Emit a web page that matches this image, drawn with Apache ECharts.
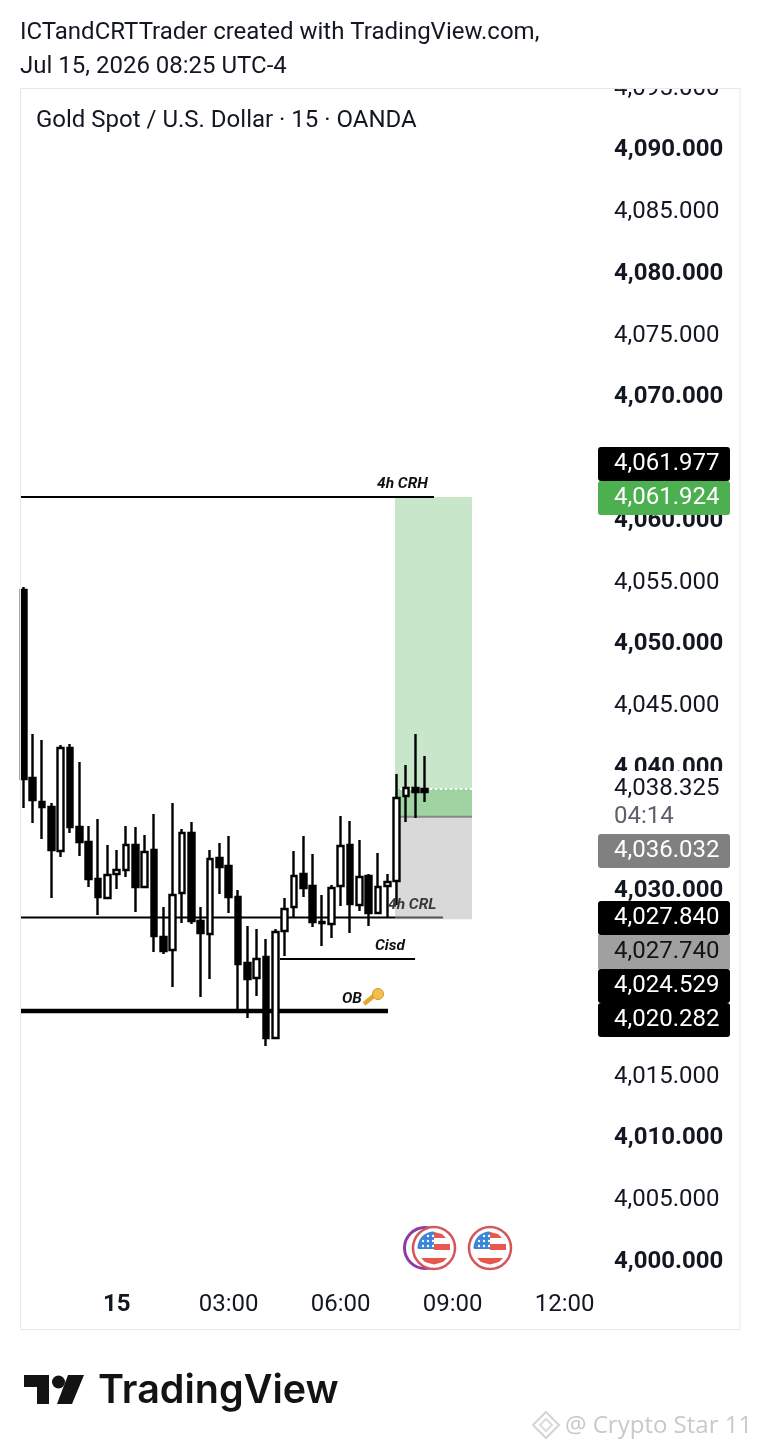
<!DOCTYPE html>
<html><head><meta charset="utf-8">
<style>html,body{margin:0;padding:0;background:#fff}#c{width:760px;height:1450px}</style>
<script src="https://cdn.jsdelivr.net/npm/echarts@6/dist/echarts.min.js"></script>
</head><body><div id="c"></div>
<script>
const categories = ['21:30','21:45','22:00','22:15','22:30','22:45','23:00','23:15','23:30','23:45','00:00','00:15','00:30','00:45','01:00','01:15','01:30','01:45','02:00','02:15','02:30','02:45','03:00','03:15','03:30','03:45','04:00','04:15','04:30','04:45','05:00','05:15','05:30','05:45','06:00','06:15','06:30','06:45','07:00','07:15','07:30','07:45','08:00','08:15','08:30','08:45','09:00','09:15','09:30','09:45','10:00','10:15','10:30','10:45','11:00','11:15','11:30','11:45','12:00','12:15','12:30','12:45'];
const tickTimes = ['00:00','03:00','06:00','09:00','12:00'];
const openVals = [4054.40,4039.18,4037.23,4036.83,4033.26,4041.60,4035.21,4033.99,4031.00,4029.46,4031.40,4031.73,4033.75,4030.35,4033.35,4026.30,4025.25,4029.86,4034.72,4027.60,4026.54,4032.70,4032.05,4029.54,4024.20,4022.98,4024.68,4018.12,4026.79,4028.73,4031.40,4030.43,4027.52,4027.35,4030.43,4033.75,4028.89,4031.24,4028.24,4030.43,4030.84,4037.72,4038.37,4038.28];
const closeVals = [4039.09,4037.39,4036.83,4033.35,4041.60,4035.21,4033.99,4031.00,4029.54,4031.32,4031.73,4033.75,4030.35,4033.18,4026.38,4025.17,4029.70,4034.72,4027.60,4026.62,4032.62,4031.97,4029.54,4024.11,4022.90,4024.52,4018.12,4026.71,4028.57,4031.24,4030.27,4027.52,4027.43,4030.27,4033.67,4028.97,4031.16,4028.24,4030.35,4030.75,4037.56,4038.37,4038.04,4038.04];
const lowVals = [4036.75,4035.53,4034.24,4029.46,4032.78,4034.72,4032.86,4030.35,4028.08,4029.38,4030.19,4031.16,4028.33,4030.27,4025.09,4024.92,4022.25,4027.43,4027.35,4021.44,4022.90,4029.78,4028.24,4020.39,4019.74,4021.52,4017.48,4018.04,4024.76,4027.92,4029.54,4027.11,4025.57,4026.22,4028.81,4026.62,4028.41,4027.19,4028.16,4027.84,4028.89,4035.61,4035.94,4037.23];
const highVals = [4054.64,4042.74,4042.25,4037.15,4041.85,4041.93,4040.47,4035.29,4035.86,4033.75,4033.35,4035.29,4035.21,4034.56,4036.26,4028.73,4037.15,4035.05,4035.61,4028.73,4033.35,4033.91,4034.48,4030.11,4027.19,4026.95,4026.14,4026.95,4029.46,4033.26,4034.48,4033.02,4029.70,4030.51,4036.10,4035.69,4034.16,4031.40,4033.10,4031.40,4039.50,4040.23,4042.74,4040.96];

const crhLevel = 4061.92, crlLevel = 4027.88, cisdLevel = 4024.52, obLevel = 4020.31;
const entryLevel = 4036.03, lastPrice = 4038.28;
const axisMin = 4000, axisMax = 4095, axisStep = 5;
const priceLabels = ['4,061.977','4,061.924','4,038.325','04:14','4,036.032','4,027.840','4,027.740','4,024.529','4,020.282'];
const titleLines = ['ICTandCRTTrader created with TradingView.com,','Jul 15, 2026 08:25 UTC-4'];
const legendText = 'Gold Spot / U.S. Dollar · 15 · OANDA';
const lineLabels = ['4h CRH','4h CRL','Cisd','OB'];

const FONT = 'Roboto, sans-serif';
const INK = '#131722';
const CAP = 'italic bold 15.5px "Liberation Sans Narrow", '+FONT;
const fmt = v => v.toFixed(3).replace(/\B(?=(\d{3})(?!\d))(?=.*\.)/, ',');

function lvl(name, x0, x1, y, w, color) {
  return {type:'line', name, xAxisIndex:1, yAxisIndex:0, data:[[x0,y],[x1,y]], symbol:'none', silent:true, z:3,
    lineStyle:{color:color||'#000', width:w}, animation:false};
}
function txt(x,y,t,o){ return {type:'text', x, y:y+1.8, z:110, silent:true, style:Object.assign({text:t, font:'24px '+FONT, fill:INK, textVerticalAlign:'middle', verticalAlign:'middle'},o||{})}; }
function box(x,y,w,h,fill,r){ return {type:'rect', z:105, silent:true, shape:{x,y,width:w,height:h,r:r||0}, style:{fill}}; }

function flag(cx,cy){
  const c=[];
  const z=100;
  c.push({type:'circle',z,silent:true,shape:{cx,cy,r:21},style:{fill:'#fff',stroke:'#d4555a',lineWidth:2.5}});
  c.push({type:'sector',z:z+1,silent:true,shape:{cx,cy,r:16.5,r0:0,startAngle:Math.PI,endAngle:Math.PI*1.5},style:{fill:'#3d85d8'}});
  c.push({type:'rect',z:z+1,silent:true,shape:{x:cx-16,y:cy-1,width:16,height:2},style:{fill:'#3d85d8'}});
  c.push({type:'polygon',z:z+1,silent:true,shape:{points:[[cx,cy-16],[cx+8,cy-14],[cx+12,cy-10],[cx,cy-10]]},style:{fill:'#e8574e'}});
  c.push({type:'rect',z:z+1,silent:true,shape:{x:cx,y:cy-4,width:16,height:6},style:{fill:'#e8574e'}});
  c.push({type:'polygon',z:z+1,silent:true,shape:{points:[[cx-13,cy+10],[cx+13,cy+10],[cx+9,cy+14],[cx,cy+16.5],[cx-9,cy+14]]},style:{fill:'#e8574e'}});
  [[-11,-7],[-6,-7],[-1,-7],[-11,-2],[-6,-2],[-1,-2],[-6,-12],[-1,-12]].forEach(p=>{
    c.push({type:'circle',z:z+2,silent:true,shape:{cx:cx+p[0],cy:cy+p[1],r:1.2},style:{fill:'#fff'}});
  });
  return c;
}

const graphics = [
  box(0,0,760,88,'#fff'), box(0,88,19.5,1250,'#fff'),
  box(0,1330,760,120,'#fff'),
  {type:'rect',z:106,silent:true,shape:{x:20.5,y:88.5,width:719.5,height:1241},style:{fill:'none',stroke:'#e6e8ee',lineWidth:1}},
  txt(20,31,titleLines[0]), txt(20,65,titleLines[1]),
  txt(36,119,legendText),
  // line captions
  txt(377,482,lineLabels[0],{font:CAP,fill:'#111'}),
  txt(388,903,lineLabels[1],{font:CAP,fill:'#3a3a3a'}),
  txt(375,944,lineLabels[2],{font:CAP,fill:'#111'}),
  txt(342,997,lineLabels[3],{font:CAP,fill:'#111'}),
  {type:'line',z:110,silent:true,shape:{x1:364,y1:1004,x2:376,y2:994},style:{stroke:'#e3a92f',lineWidth:4.5}},
  {type:'circle',z:110,silent:true,shape:{cx:378,cy:994,r:5.5},style:{fill:'#f0bf4c',stroke:'#d8982a',lineWidth:1}},
  // price scale boxes
  box(598,447,132,34,'#000',3), txt(614,462.5,priceLabels[0],{fill:'#fff'}),
  box(598,481,132,34,'#4caf50',3), txt(614,496.5,priceLabels[1],{fill:'#fff'}),
  box(598,771,132,64,'#fff'), txt(614,787,priceLabels[2]), txt(614,815,priceLabels[3],{fill:'#5d606b'}),
  box(598,834,132,34,'#808080',3), txt(614,849,priceLabels[4],{fill:'#fff'}),
  box(598,901,132,34,'#000',3), txt(614,916,priceLabels[5],{fill:'#fff'}),
  box(598,935,132,34,'#a0a0a0',0), txt(614,950,priceLabels[6],{fill:'#131313'}),
  box(598,969,132,34,'#000',3), txt(614,984,priceLabels[7],{fill:'#fff'}),
  box(598,1003,132,34,'#000',3), txt(614,1018,priceLabels[8],{fill:'#fff'}),
  // event badges
  {type:'circle',z:99,silent:true,shape:{cx:425,cy:1248,r:20.5},style:{fill:'#fff',stroke:'#8e3aa8',lineWidth:3}},
  ...flag(434,1248), ...flag(490,1248),
  // TradingView mark
  {type:'polygon',z:110,silent:true,shape:{points:[[24,1375],[49,1375],[49,1404],[37,1404],[37,1387],[24,1387]]},style:{fill:'#131313'}},
  {type:'circle',z:110,silent:true,shape:{cx:58.5,cy:1382,r:6.5},style:{fill:'#131313'}},
  {type:'polygon',z:110,silent:true,shape:{points:[[68,1375],[84,1375],[72,1404],[57,1404]]},style:{fill:'#131313'}},
  txt(98,1389,'TradingView',{font:'600 39.5px Inter, '+FONT,fill:'#131313'}),
  // watermark
  {type:'polygon',z:110,silent:true,shape:{points:[[546,1412],[559,1425],[546,1438],[533,1425]]},style:{fill:'none',stroke:'#d4d4d4',lineWidth:2}},
  {type:'polygon',z:110,silent:true,shape:{points:[[546,1419],[552,1425],[546,1431],[540,1425]]},style:{fill:'none',stroke:'#dcdcdc',lineWidth:2}},
  txt(565,1424,'@ Crypto Star 11',{font:'24px "Open Sans", sans-serif',fill:'#c9c9c9'})
];

const chart = echarts.init(document.getElementById('c'),null,{renderer:'canvas'});
chart.setOption({
  animation:false, backgroundColor:'#fff',
  grid:{left:18.67, width:578.67, top:88.55, height:1173.25},
  xAxis:[
    {type:'category', data:categories, boundaryGap:true, axisLine:{show:false}, axisTick:{show:false}, splitLine:{show:false},
     axisLabel:{interval:(i,v)=>tickTimes.includes(v), margin:31.5, color:INK, fontFamily:'Roboto', fontSize:24, hideOverlap:false,
       formatter:v=> v==='00:00' ? '{b|15}' : v, rich:{b:{fontWeight:'bold',fontSize:24,fontFamily:'Roboto',color:INK}}}},
    {type:'value', min:-0.5, max:61.5, show:false}
  ],
  yAxis:[{type:'value', position:'right', min:axisMin, max:axisMax, interval:axisStep, scale:true,
    axisLine:{show:false}, axisTick:{show:false}, splitLine:{show:false},
    axisLabel:{margin:16.7, color:INK, fontFamily:'Roboto', fontSize:24, showMinLabel:true, showMaxLabel:true, hideOverlap:false,
      formatter:v=> v%10===0 ? '{b|'+fmt(v)+'}' : fmt(v), rich:{b:{fontWeight:'bold',fontSize:24,fontFamily:'Roboto',color:INK}}}}],
  graphic:graphics,
  series:[
    {type:'line', name:'zones', xAxisIndex:1, data:[], symbol:'none', z:1, silent:true,
     markArea:{silent:true, animation:false, data:[
       [{coord:[39.82,crhLevel],itemStyle:{color:'#c8e6c9'}},{coord:[48.07,lastPrice]}],
       [{coord:[39.82,lastPrice],itemStyle:{color:'#9fd3a1'}},{coord:[48.07,entryLevel]}],
       [{coord:[39.82,entryLevel],itemStyle:{color:'#d9d9d9'}},{coord:[48.07,crlLevel-0.14]}]
     ]}},
    lvl('entry',39.82,48.07,entryLevel,2,'#7f8c7f'),
    {type:'line',name:'last',xAxisIndex:1,data:[[39.82,lastPrice],[48.07,lastPrice]],symbol:'none',silent:true,z:2,
      lineStyle:{color:'#fff',width:2,type:[2,3]}},
    lvl('crh',-0.36,44.0,crhLevel,2),
    lvl('crlA',-0.36,39.82,crlLevel,2),
    lvl('crlB',39.82,44.96,crlLevel,2,'#555'),
    lvl('cisd',27.5,41.97,cisdLevel,2),
    lvl('ob',-0.36,39.07,obLevel,4.5),
    {type:'candlestick', name:'XAUUSD', xAxisIndex:0, yAxisIndex:0, barWidth:6, z:4, silent:true,
      data:openVals.map((o,i)=>[o,closeVals[i],lowVals[i],highVals[i]]),
      itemStyle:{color:'#fff',color0:'#000',borderColor:'#000',borderColor0:'#000',borderWidth:2.4}}
  ]
});
</script></body></html>
